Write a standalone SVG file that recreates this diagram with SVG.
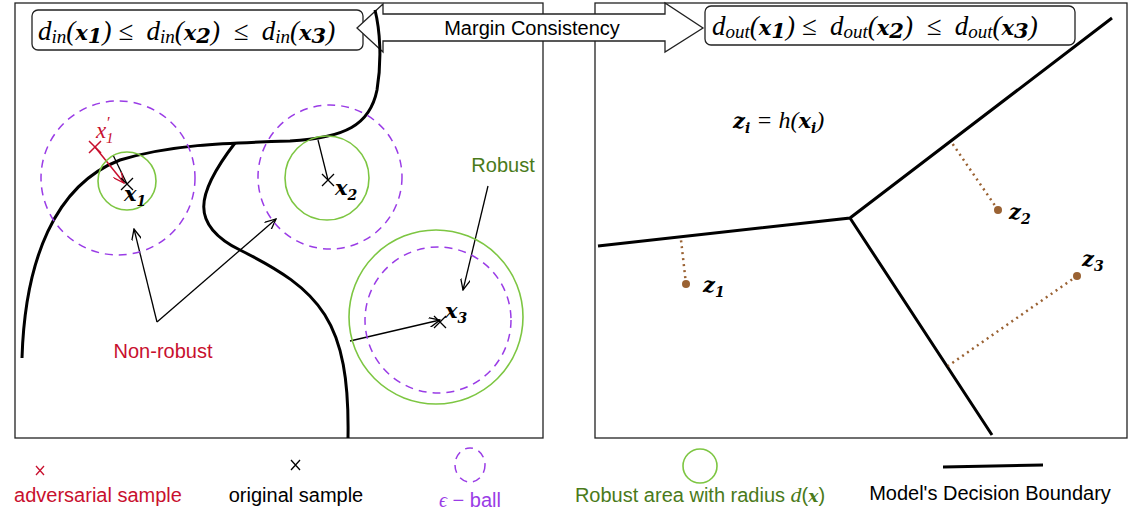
<svg xmlns="http://www.w3.org/2000/svg" width="1132" height="513" viewBox="0 0 1132 513">
<style>
.p{fill:none;stroke:#222;stroke-width:1.3}
.b{fill:none;stroke:#000;stroke-width:3}
.g{fill:none;stroke:#7dc642;stroke-width:1.6}
.e{fill:none;stroke:#9a3ce6;stroke-width:1.5;stroke-dasharray:8,6}
.t{font-family:"Liberation Sans",sans-serif;font-size:20px}
.m{font-family:"Liberation Serif",serif;font-size:27px;font-style:italic;white-space:pre}
.mb{font-family:"DejaVu Serif",serif;font-size:21px;font-weight:bold;font-style:italic}
.d{stroke:#9a6233;stroke-width:2.5;stroke-dasharray:2,4}
.a{stroke:#000;stroke-width:1.3;fill:none;marker-end:url(#ah)}
</style>
<defs>
<marker id="ah" markerWidth="12" markerHeight="10" refX="11" refY="5" orient="auto" markerUnits="userSpaceOnUse"><path d="M0,0 L11,5 L0,10" fill="none" stroke="#000" stroke-width="1.3"/></marker>
<marker id="ahr" markerWidth="12" markerHeight="10" refX="11" refY="5" orient="auto" markerUnits="userSpaceOnUse"><path d="M0,0 L11,5 L0,10" fill="none" stroke="#c8102e" stroke-width="1.3"/></marker>
</defs>
<rect width="1132" height="513" fill="#fff"/>
<g id="left-panel"><rect x="15" y="3" width="528" height="435" class="p"/></g>
<g id="right-panel"><rect x="595" y="3" width="532" height="435" class="p"/></g>
<g id="left-formula"><rect x="32" y="10" width="331" height="40" rx="6" class="p"/>
<text x="38" y="40" class="m">d<tspan font-size="19" dy="3">in</tspan><tspan dy="-3">(</tspan><tspan class="mb">x</tspan><tspan class="mb" font-size="15" dy="3">1</tspan><tspan dy="-3">) ≤  d</tspan><tspan font-size="19" dy="3">in</tspan><tspan dy="-3">(</tspan><tspan class="mb">x</tspan><tspan class="mb" font-size="15" dy="3">2</tspan><tspan dy="-3">)  ≤  d</tspan><tspan font-size="19" dy="3">in</tspan><tspan dy="-3">(</tspan><tspan class="mb">x</tspan><tspan class="mb" font-size="15" dy="3">3</tspan><tspan dy="-3">)</tspan></text></g>
<g id="right-formula"><rect x="705" y="6" width="370" height="39" rx="6" class="p"/>
<text x="712" y="35" class="m">d<tspan font-size="19" dy="3">out</tspan><tspan dy="-3">(</tspan><tspan class="mb">x</tspan><tspan class="mb" font-size="15" dy="3">1</tspan><tspan dy="-3">) ≤  d</tspan><tspan font-size="19" dy="3">out</tspan><tspan dy="-3">(</tspan><tspan class="mb">x</tspan><tspan class="mb" font-size="15" dy="3">2</tspan><tspan dy="-3">)  ≤  d</tspan><tspan font-size="19" dy="3">out</tspan><tspan dy="-3">(</tspan><tspan class="mb">x</tspan><tspan class="mb" font-size="15" dy="3">3</tspan><tspan dy="-3">)</tspan></text></g>
<g id="margin-arrow"><path d="M357,28 L383,4 L383,14 L665,14 L665,3 L703,28 L665,52 L665,41 L383,41 L383,52 Z" fill="#fff" stroke="#222" stroke-width="1.3"/>
<text x="532" y="35" class="t" text-anchor="middle">Margin Consistency</text></g>
<g id="connectors">
<path class="b" d="M22,358 C25,260 55,185 120,160 C170,145 220,143 290,141 C345,138 370,125 377,90 C382,60 380,30 375,10"/>
<path class="b" d="M235,143 C195,195 190,225 240,250 C320,290 350,320 348,438"/>
<path class="b" d="M598,246 L850,218 L1112,18 M850,218 L992,435"/>
<line x1="686" y1="284" x2="681" y2="240" class="d"/>
<line x1="998" y1="210" x2="952" y2="143" class="d"/>
<line x1="1077" y1="276" x2="948" y2="366" class="d"/>
<line x1="157" y1="322" x2="134" y2="229" class="a"/>
<line x1="157" y1="322" x2="276" y2="219" class="a"/>
<line x1="488" y1="186" x2="463" y2="290" class="a"/>
<line x1="350" y1="341" x2="440" y2="320" class="a"/>
<line x1="127" y1="184" x2="113" y2="155" stroke="#000" stroke-width="1.3"/>
<line x1="328" y1="180" x2="318" y2="140" stroke="#000" stroke-width="1.3"/>
<line x1="95" y1="147" x2="124" y2="183" stroke="#c8102e" stroke-width="1.5" marker-end="url(#ahr)"/>
</g>
<g id="node-x1"><circle cx="127" cy="181" r="29" class="g"/><circle cx="118" cy="178" r="77" class="e"/>
<path d="M121,178 l12,12 M121,190 l12,-12" stroke="#000" stroke-width="1.3"/>
<text x="124" y="201" class="mb">x<tspan font-size="14" dy="5">1</tspan></text></g>
<g id="node-adv"><path d="M89,141 l12,12 M89,153 l12,-12" stroke="#c8102e" stroke-width="1.5"/>
<text x="96" y="138" font-family="Liberation Serif" font-style="italic" font-size="23" fill="#c8102e">x</text>
<text x="106" y="143" font-family="Liberation Serif" font-style="italic" font-size="15" fill="#c8102e">1</text>
<text x="107" y="128" font-family="Liberation Serif" font-size="16" fill="#c8102e">′</text></g>
<g id="node-x2"><circle cx="327" cy="178" r="42" class="g"/><circle cx="330" cy="177" r="72" class="e"/>
<path d="M322,174 l12,12 M322,186 l12,-12" stroke="#000" stroke-width="1.3"/>
<text x="335" y="195" class="mb">x<tspan font-size="14" dy="5">2</tspan></text></g>
<g id="node-x3"><circle cx="436" cy="317" r="87" class="g"/><circle cx="438" cy="320" r="73" class="e"/>
<path d="M434,316 l12,12 M434,328 l12,-12" stroke="#000" stroke-width="1.3"/>
<text x="445" y="318" class="mb">x<tspan font-size="14" dy="5">3</tspan></text></g>
<g id="label-nonrobust"><text x="163" y="358" class="t" fill="#c8102e" text-anchor="middle">Non-robust</text></g>
<g id="label-robust"><text x="503" y="172" class="t" fill="#4a7a1a" text-anchor="middle">Robust</text></g>
<g id="node-z"><text x="733" y="128" class="mb">z<tspan font-size="14" dy="5">i</tspan><tspan dy="-5" font-weight="normal" font-family="Liberation Serif" font-size="24"> = <tspan font-style="italic">h</tspan>(</tspan><tspan font-style="italic">x</tspan><tspan font-size="14" dy="5">i</tspan><tspan dy="-5" font-weight="normal" font-family="Liberation Serif" font-size="24">)</tspan></text></g>
<g id="node-z1"><circle cx="686" cy="284" r="4" fill="#9a6233"/><text x="703" y="292" class="mb">z<tspan font-size="14" dy="5">1</tspan></text></g>
<g id="node-z2"><circle cx="998" cy="210" r="4" fill="#9a6233"/><text x="1009" y="219" class="mb">z<tspan font-size="14" dy="5">2</tspan></text></g>
<g id="node-z3"><circle cx="1077" cy="276" r="4" fill="#9a6233"/><text x="1082" y="266" class="mb">z<tspan font-size="14" dy="5">3</tspan></text></g>
<g id="legend">
<path d="M36,466 l8,9 M36,475 l8,-9" stroke="#c8102e" stroke-width="1.3"/>
<text x="98" y="502" class="t" fill="#c8102e" text-anchor="middle">adversarial sample</text>
<path d="M291,460 l9,10 M291,470 l9,-10" stroke="#000" stroke-width="1.3"/>
<text x="296" y="502" class="t" text-anchor="middle">original sample</text>
<ellipse cx="470" cy="465" rx="15" ry="17" class="e" stroke-dasharray="6,5"/>
<text x="470" y="507" class="t" fill="#9a3ce6" text-anchor="middle"><tspan font-family="Liberation Serif" font-style="italic">ϵ</tspan> − ball</text>
<circle cx="700" cy="466" r="17" class="g"/>
<text x="700" y="502" class="t" fill="#4a7a1a" text-anchor="middle">Robust area with radius <tspan font-family="Liberation Serif" font-style="italic" font-size="22">d</tspan>(<tspan font-family="DejaVu Serif" font-style="italic" font-weight="bold" font-size="17">x</tspan>)</text>
<line x1="943" y1="467" x2="1043" y2="465" stroke="#000" stroke-width="3"/>
<text x="990" y="500" class="t" text-anchor="middle">Model's Decision Boundary</text>
</g>
</svg>
